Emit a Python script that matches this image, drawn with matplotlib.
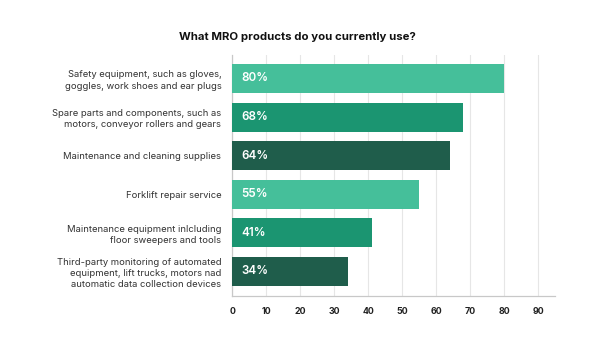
import matplotlib
matplotlib.use("Agg")
import matplotlib.pyplot as plt
import numpy as np

plt.rcParams["font.family"] = ["Inter", "DejaVu Sans"]

# data
categories = [
    "Safety equipment, such as gloves,\ngoggles, work shoes and ear plugs",
    "Spare parts and components, such as\nmotors, conveyor rollers and gears",
    "Maintenance and cleaning supplies",
    "Forklift repair service",
    "Maintenance equipment inlcluding\nfloor sweepers and tools",
    "Third-party monitoring of automated\nequipment, lift trucks, motors nad\nautomatic data collection devices",
]
shares = [80, 68, 64, 55, 41, 34]
x_ticks = [0, 10, 20, 30, 40, 50, 60, 70, 80, 90]

bar_colors = ["#45bf9a", "#1b9571", "#1f5d4b"] * 2

fig = plt.figure(figsize=(5.93, 3.5), dpi=100)
ax = fig.add_axes([0.392, 0.154, 0.544, 0.689])

pos = np.arange(len(categories))
bars = ax.barh(pos, shares, height=0.75, color=bar_colors, zorder=3)

for b, v in zip(bars, shares):
    ax.text(b.get_x() + 2.7, b.get_y() + b.get_height() / 2, f"{v}%",
            color="white", fontsize=8.4, fontweight="semibold",
            va="center", ha="left", zorder=4)

ax.set_xlim(0, 95)
ax.set_ylim(len(categories) - 0.36, -0.61)
ax.set_yticks(pos)
ax.set_yticklabels(categories, fontsize=6.8, color="#333333", linespacing=1.3)
ax.set_xticks(x_ticks)
ax.set_xticklabels([str(t) for t in x_ticks], fontsize=6.4,
                   fontweight="bold", color="#222222")
ax.tick_params(axis="y", length=0, pad=8)
ax.tick_params(axis="x", length=0, pad=7.5)

ax.grid(axis="x", color="#e6e6e6", linewidth=0.8, zorder=0)
for s in ["top", "right"]:
    ax.spines[s].set_visible(False)
ax.spines["left"].set_color("#c8c8c8")
ax.spines["bottom"].set_color("#c8c8c8")
ax.spines["left"].set_linewidth(0.9)
ax.spines["bottom"].set_linewidth(0.9)

fig.text(0.502, 0.894, "What MRO products do you currently use?",
         ha="center", va="center", fontsize=8.2, fontweight="bold",
         color="#111111")

fig.savefig("out.png", dpi=100, facecolor="white")
